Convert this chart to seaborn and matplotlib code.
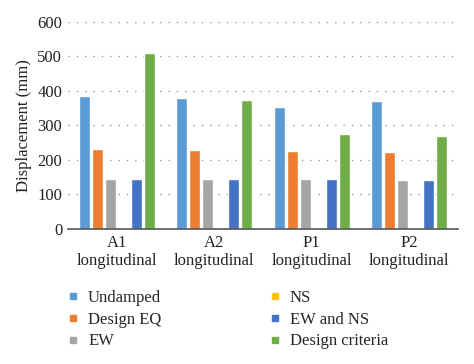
import pandas as pd
import matplotlib.pyplot as plt
import seaborn as sns
from matplotlib.lines import Line2D

locais = ['A1\nlongitudinal', 'A2\nlongitudinal', 'P1\nlongitudinal', 'P2\nlongitudinal']
series = ['Undamped', 'Design EQ', 'EW', 'NS', 'EW and NS', 'Design criteria']
undamped = [384, 379, 354, 370]
design_eq = [232, 230, 225, 222]
ew = [145, 145, 146, 142]
ns = [3, 3, 3, 3]
ew_ns = [146, 145, 146, 142]
design_criteria = [509, 374, 274, 269]
cores = ['#5B9BD5', '#ED7D31', '#A5A5A5', '#FFC000', '#4472C4', '#70AD47']

valores = [undamped, design_eq, ew, ns, ew_ns, design_criteria]
linhas = []
for nome, vals in zip(series, valores):
    for local, v in zip(locais, vals):
        linhas.append({'local': local, 'serie': nome, 'valor': v})
df = pd.DataFrame(linhas)

sns.set_style('white')
plt.rcParams['font.family'] = ['Liberation Serif', 'DejaVu Serif']

fig = plt.figure(figsize=(4.74, 3.64), dpi=100)
ax = fig.add_axes([0.143, 0.371, 0.823, 0.569])

sns.barplot(x='local', y='valor', hue='serie', data=df, palette=cores,
            hue_order=series, order=locais, width=0.8, gap=0.15, ax=ax,
            legend=False, saturation=1)

ax.set_ylim(0, 600)
ax.set_xlim(-0.5, 3.5)
ax.set_yticks(range(0, 601, 100))
ax.yaxis.grid(True, linestyle=(0, (1, 5)), color='#999999', linewidth=1.0)
ax.set_axisbelow(True)
for lado in ['top', 'right', 'left']:
    ax.spines[lado].set_visible(False)
ax.spines['bottom'].set_color('#555555')
ax.spines['bottom'].set_linewidth(1.2)
ax.tick_params(axis='both', length=0, labelsize=12, colors='#222222', pad=4)
ax.set_xlabel('')
ax.set_ylabel('Displacement (mm)', fontsize=12, color='#222222', labelpad=4)

handles = [Line2D([], [], marker='s', linestyle='', color=c, markersize=5) for c in cores]
fig.legend(handles, series, ncol=2, loc='upper left', bbox_to_anchor=(0.105, 0.245),
           frameon=False, fontsize=12, handletextpad=0.4, columnspacing=6.3,
           labelspacing=0.35, handlelength=1.0)

fig.savefig('out.png', dpi=100)
